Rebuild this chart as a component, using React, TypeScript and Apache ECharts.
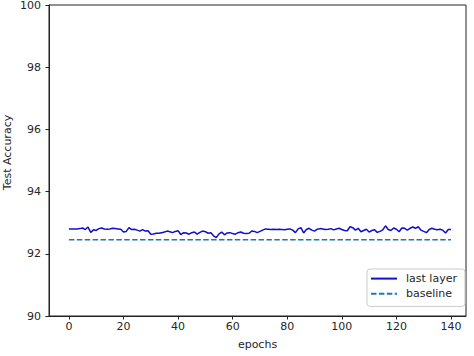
import React, { useEffect, useRef } from "react";
import * as echarts from "echarts";

const epochs: number[] = Array.from({ length: 141 }, (_, i) => i);

const lastLayer: number[] = [
  92.80, 92.80, 92.80, 92.80, 92.81, 92.83, 92.78, 92.86, 92.69, 92.77,
  92.75, 92.81, 92.83, 92.80, 92.79, 92.80, 92.82, 92.81, 92.80, 92.79,
  92.70, 92.72, 92.84, 92.78, 92.79, 92.76, 92.73, 92.78, 92.73, 92.74,
  92.63, 92.64, 92.66, 92.66, 92.68, 92.70, 92.73, 92.71, 92.68, 92.72,
  92.74, 92.62, 92.68, 92.67, 92.63, 92.68, 92.70, 92.63, 92.69, 92.73,
  92.71, 92.66, 92.68, 92.58, 92.52, 92.64, 92.70, 92.61, 92.67, 92.68,
  92.65, 92.63, 92.68, 92.70, 92.66, 92.65, 92.66, 92.73, 92.72, 92.68,
  92.72, 92.76, 92.80, 92.79, 92.78, 92.79, 92.78, 92.79, 92.78, 92.77,
  92.79, 92.80, 92.76, 92.68, 92.80, 92.84, 92.67, 92.78, 92.82, 92.76,
  92.73, 92.79, 92.81, 92.80, 92.78, 92.79, 92.81, 92.77, 92.80, 92.82,
  92.78, 92.75, 92.74, 92.87, 92.84, 92.76, 92.82, 92.71, 92.75, 92.79,
  92.70, 92.75, 92.77, 92.69, 92.72, 92.77, 92.90, 92.78, 92.75, 92.83,
  92.79, 92.71, 92.83, 92.82, 92.76, 92.82, 92.86, 92.82, 92.87, 92.76,
  92.72, 92.68, 92.78, 92.82, 92.79, 92.77, 92.79, 92.76, 92.67, 92.78,
  92.78,
];

const baselineValue = 92.45;
const baseline: number[] = epochs.map(() => baselineValue);

const xTicks: number[] = [0, 20, 40, 60, 80, 100, 120, 140];
const yTicks: number[] = [90, 92, 94, 96, 98, 100];

const TEXT = "#262626";
const FONT = "DejaVu Sans";
const FS = 11;

export default function App() {
  const ref = useRef<HTMLDivElement>(null);

  useEffect(() => {
    if (!ref.current) return;
    const chart = echarts.init(ref.current, null, { renderer: "svg" });
    chart.setOption({
      animation: false,
      backgroundColor: "#ffffff",
      textStyle: { fontFamily: FONT, color: TEXT },
      grid: {
        left: 49,
        top: 5,
        width: 417,
        height: 311,
        containLabel: false,
        outerBoundsMode: "none",
        show: true,
        borderColor: "#222",
        borderWidth: 1,
        backgroundColor: "transparent",
      },
      legend: {
        orient: "vertical",
        left: 367,
        top: 269,
        padding: [4, 8, 7, 3],
        itemGap: 4,
        itemWidth: 26,
        itemHeight: 14,
        backgroundColor: "rgba(255,255,255,0.85)",
        borderColor: "#cccccc",
        borderWidth: 1,
        borderRadius: 3,
        itemStyle: { opacity: 0 },
        textStyle: { fontFamily: FONT, fontSize: FS, color: TEXT, padding: [0, 0, 0, 4] },
        data: ["last layer", "baseline"],
      },
      xAxis: {
        type: "value",
        min: -7.3,
        max: 145.5,
        name: "epochs",
        nameLocation: "middle",
        nameGap: 23,
        nameMoveOverlap: false,
        nameTextStyle: { fontFamily: FONT, fontSize: FS, color: TEXT },
        axisLine: { show: true, onZero: false, lineStyle: { color: "#222", width: 1 } },
        axisTick: {
          show: true,
          inside: false,
          length: 3.5,
          customValues: xTicks,
          lineStyle: { color: "#222" },
        },
        axisLabel: {
          show: true,
          customValues: xTicks,
          margin: 5,
          fontFamily: FONT,
          fontSize: FS,
          color: TEXT,
        },
        splitLine: { show: false },
      },
      yAxis: {
        type: "value",
        min: 90,
        max: 100,
        interval: 2,
        name: "Test Accuracy",
        nameLocation: "middle",
        nameGap: 36,
        nameMoveOverlap: false,
        nameTextStyle: { fontFamily: FONT, fontSize: FS, color: TEXT, padding: [0, 0, 0, 16] },
        axisLine: { show: true, onZero: false, lineStyle: { color: "#222", width: 1 } },
        axisTick: { show: true, inside: false, length: 3.5, lineStyle: { color: "#222" } },
        axisLabel: {
          show: true,
          margin: 8,
          fontFamily: FONT,
          fontSize: FS,
          color: TEXT,
          customValues: yTicks,
        },
        splitLine: { show: false },
      },
      series: [
        {
          name: "last layer",
          type: "line",
          data: epochs.map((e, i) => [e, lastLayer[i]]),
          symbol: "none",
          lineStyle: { color: "#1010c8", width: 1.5 },
          itemStyle: { color: "#1010c8" },
          z: 3,
        },
        {
          name: "baseline",
          type: "line",
          data: epochs.map((e, i) => [e, baseline[i]]),
          symbol: "none",
          lineStyle: { color: "#1f77b4", width: 1.5, type: [5.5, 2.4] },
          itemStyle: { color: "#1f77b4" },
          z: 2,
        },
      ],
    });
    return () => chart.dispose();
  }, []);

  return (
    <div
      ref={ref}
      style={{ position: "fixed", left: 0, top: 0, width: 474, height: 356 }}
    />
  );
}
